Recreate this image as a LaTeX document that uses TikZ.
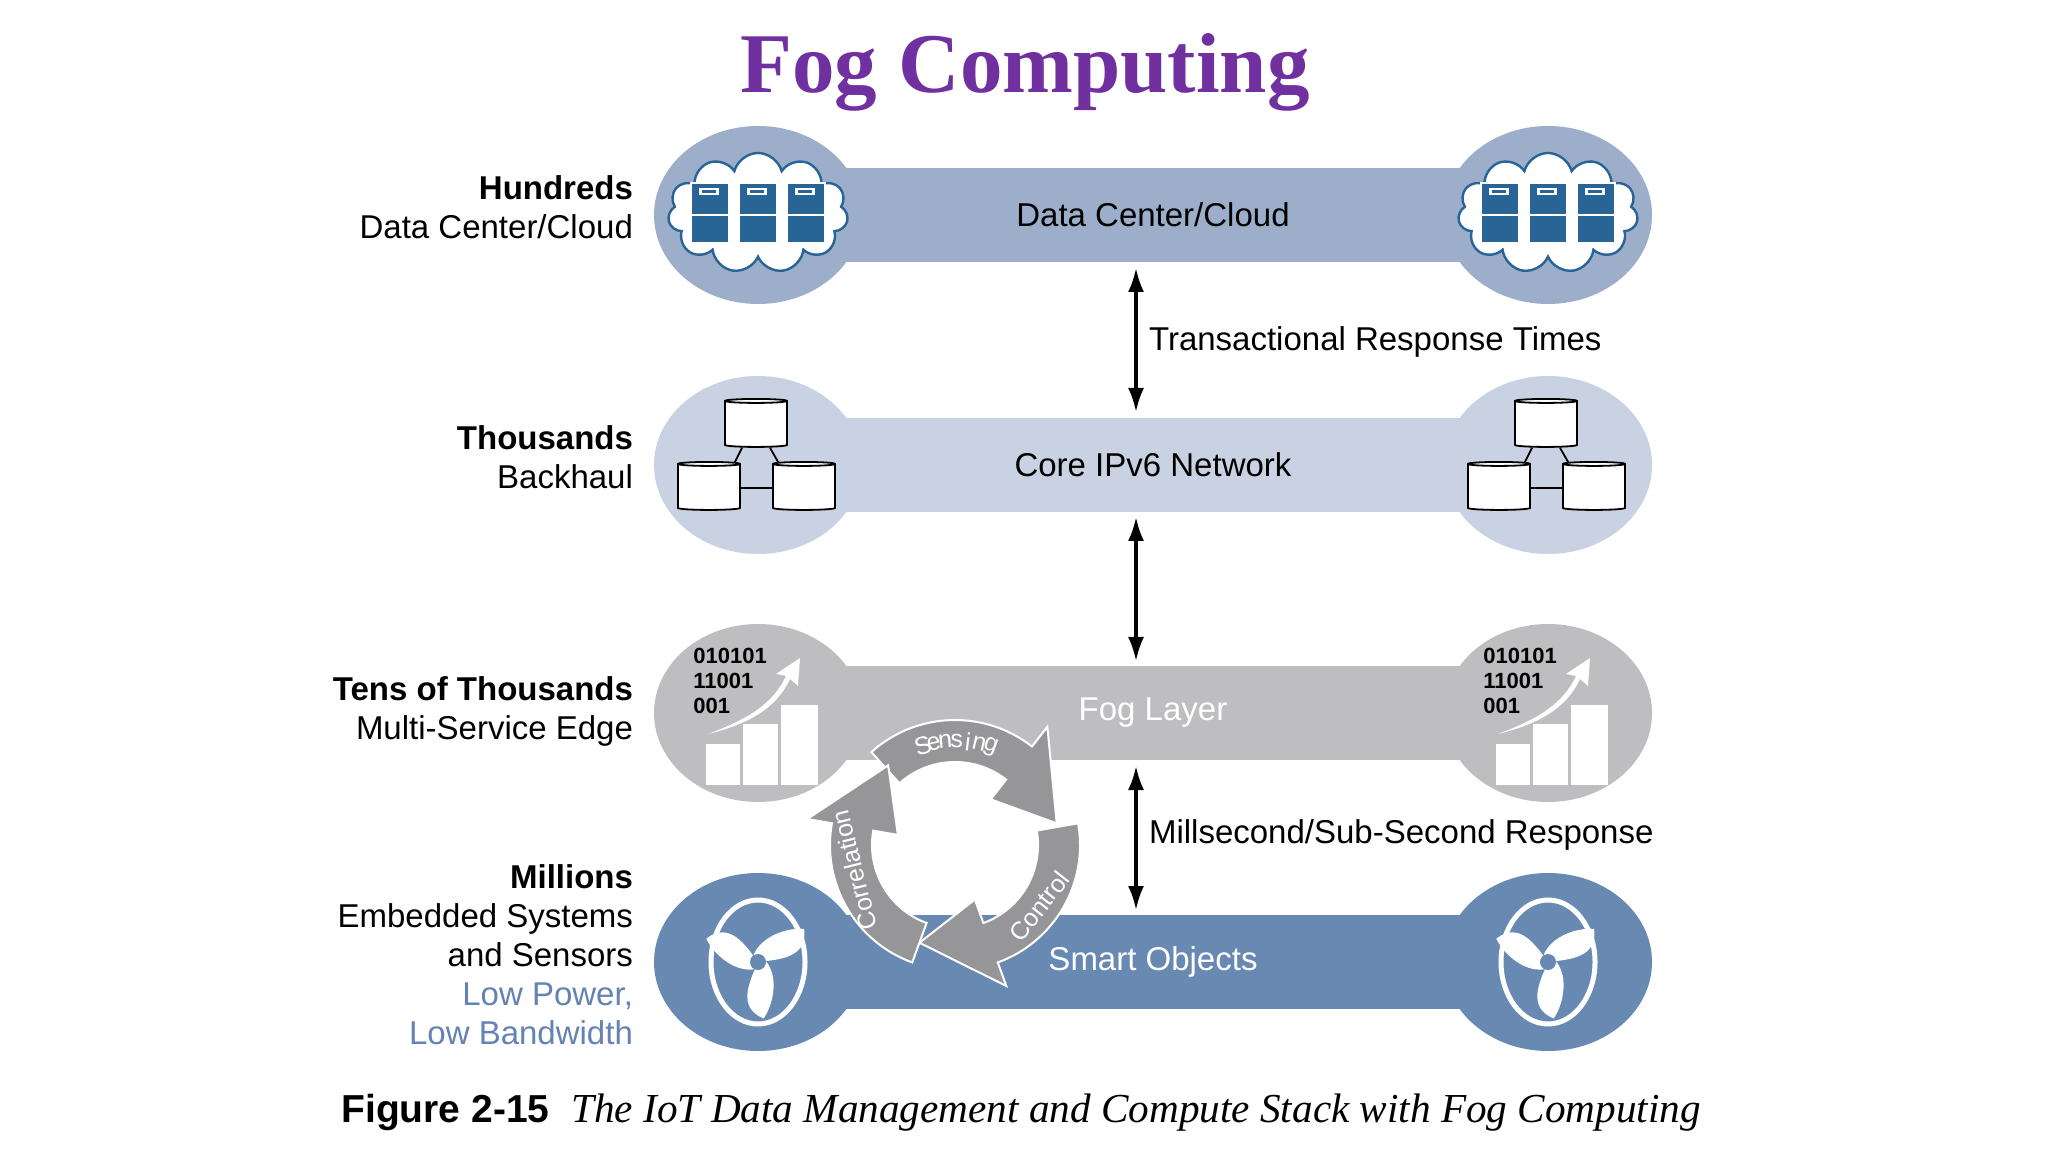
\documentclass[tikz,border=0pt]{standalone}
\usepackage{fontspec}
\setmainfont{Liberation Sans}
\newfontfamily\titlefont{Liberation Serif}
\usetikzlibrary{arrows.meta, positioning, shapes.symbols, shapes.geometric, calc}
\definecolor{cloudband}{RGB}{157,174,203}
\definecolor{coreband}{RGB}{200,210,226}
\definecolor{fogband}{RGB}{190,190,192}
\definecolor{smartband}{RGB}{104,138,178}
\definecolor{serverblue}{RGB}{40,100,150}
\definecolor{titlepurple}{RGB}{112,48,160}
\definecolor{lowblue}{RGB}{100,130,180}
\definecolor{cyclegray}{RGB}{150,150,152}
\tikzset{
  bandtext/.style={font=\fontsize{16.5}{18}\selectfont},
  tierlabel/.style={anchor=east, align=right, font=\fontsize{16.5}{19.5}\selectfont},
  rangelabel/.style={anchor=west, font=\fontsize{16.5}{18}\selectfont},
  cycletext/.style={text=white, font=\fontsize{12.5}{14}\selectfont, inner sep=0pt},
  link/.style={{Latex[length=12pt,width=8pt]}-{Latex[length=12pt,width=8pt]}, line width=1.6pt},
  server/.style={rectangle, fill=serverblue, draw=white, line width=1pt, minimum width=19pt, minimum height=30pt},
  dbase/.style={cylinder, shape border rotate=90, aspect=0.3, draw, fill=white, line width=0.9pt, minimum width=31pt, minimum height=24pt},
  bar/.style={fill=white, draw=none}
}
% one band with its two end discs
\newcommand{\layerband}[2]{%
  \fill[#1] (758,#2) ellipse (104 and 89);
  \fill[#1] (1548,#2) ellipse (104 and 89);
  \fill[#1] (758,#2-47) rectangle (1548,#2+47);
}
\begin{document}
\begin{tikzpicture}[x=0.5pt, y=0.5pt]
  \useasboundingbox (0,0) rectangle (2048,1152);
  \fill[white] (0,0) rectangle (2048,1152);

  % Title
  \node[font=\titlefont\bfseries\fontsize{42.5}{46}\selectfont, text=titlepurple] (title) at (1025,1080) {Fog Computing};

  % Bands
  \layerband{cloudband}{937}
  \layerband{coreband}{687}
  \layerband{fogband}{439}
  \layerband{smartband}{190}

  \node[bandtext] (cloud) at (1153,937) {Data Center/Cloud};
  \node[bandtext] (core) at (1153,687) {Core IPv6 Network};
  \node[bandtext, text=white] (fog) at (1153,439) {Fog Layer};
  \node[bandtext, text=white] (smart) at (1153,190) {Smart Objects};

  % Cloud icons
  \foreach \cx/\nm in {758/cl, 1548/cr} {
    \node[cloud, cloud puffs=11, aspect=1.5, draw=serverblue, line width=1.2pt, fill=white,
          minimum width=90pt, minimum height=60pt] (\nm) at (\cx,939) {};
    \foreach \dx in {-48,0,48} {
      \node[server] at (\cx+\dx,939) {};
      \fill[white] (\cx+\dx-11,957) rectangle (\cx+\dx+9,964);
      \fill[serverblue] (\cx+\dx-8,959) rectangle (\cx+\dx+6,962);
      \draw[white, line width=1pt] (\cx+\dx-19,937) -- (\cx+\dx+19,937);
    }
  }

  % Database icons
  \foreach \cx/\nm in {758/dl, 1548/dr} {
    \node[dbase] (\nm top) at (\cx-2,727) {};
    \node[dbase] (\nm a) at (\cx-49,664) {};
    \node[dbase] (\nm b) at (\cx+46,664) {};
    \draw[line width=0.9pt] (\nm top.south) ++(-14,0) -- (\nm a.north east);
    \draw[line width=0.9pt] (\nm top.south) ++(14,0) -- (\nm b.north west);
    \draw[line width=0.9pt] (\nm a.east) -- (\nm b.west);
  }

  % Analytics icons
  \foreach \cx/\nm in {758/al, 1548/ar} {
    \node[anchor=north west, align=left, font=\bfseries\fontsize{11}{12.5}\selectfont, inner sep=0pt] (\nm) at (\cx-65,504) {010101\\11001\\001};
    \fill[bar] (\cx-52,367) rectangle (\cx-18,408);
    \fill[bar] (\cx-15,367) rectangle (\cx+20,428);
    \fill[bar] (\cx+23,367) rectangle (\cx+60,447);
    \fill[white] (\cx-50,418) .. controls (\cx-10,433) and (\cx+15,448) .. (\cx+28,476)
      -- (\cx+18,478) -- (\cx+42,494) -- (\cx+40,466) -- (\cx+32,473)
      .. controls (\cx+18,443) and (\cx-10,428) .. cycle;
  }

  % Fan icons
  \foreach \cx/\nm in {758/fl, 1548/fr} {
    \draw[white, line width=2.5pt] (\cx,190) ellipse (47 and 62) coordinate (\nm);
    \foreach \a in {80,200,320} {
      \fill[white, rotate around={\a:(\cx,190)}] (\cx,190)
        .. controls (\cx+14,205) and (\cx+36,225) .. (\cx+14,245)
        .. controls (\cx,235) and (\cx-14,212) .. (\cx-8,193) -- cycle;
    }
    \fill[smartband] (\cx,190) circle (8);
  }

  % Cycle
  \foreach \t/\nm in {12/sens, -110/ctrl, 130/corr} {
    \pgfmathsetmacro{\A}{\t+120}
    \pgfmathsetmacro{\B}{\t+40}
    \fill[cyclegray, draw=white, line width=1pt] (955,307) ++(\A:125)
      arc[start angle=\A, end angle=\B, radius=125]
      -- ++(\B:25) coordinate (\nm)
      -- ($(955,307)+(\t:104)$)
      -- ($(955,307)+(\B:58)$)
      -- ($(955,307)+(\B:83)$)
      arc[start angle=\B, end angle=\A, radius=83] -- cycle;
  }
  \foreach \w [count=\i] in {S,e,n,s,i,n,g} {
    \pgfmathsetmacro{\ang}{108-(\i-1)*6.3}
    \node[cycletext, rotate=\ang-90] at ($(955,307)+(\ang:104)$) {\w};
  }
  \node[cycletext, rotate=52] (ctrlt) at ($(955,307)+(-36:104)$) {Control};
  \node[cycletext, rotate=104] (corrt) at ($(955,307)+(194:104)$) {Correlation};

  % Connectors
  \coordinate (c1) at (1136,884);
  \coordinate (c2) at (1136,740);
  \coordinate (c3) at (1136,635);
  \coordinate (c4) at (1136,491);
  \coordinate (c5) at (1136,386);
  \coordinate (c6) at (1136,242);
  \draw[link] (c1) -- (c2);
  \draw[link] (c3) -- (c4);
  \draw[link] (c5) -- (c6);
  \node[rangelabel] (trans) at (1142,810) {Transactional Response Times};
  \node[rangelabel] (milli) at (1142,317) {Millsecond/Sub-Second Response};

  % Tier labels
  \node[tierlabel] (hund) at (640,945) {\textbf{Hundreds}\\Data Center/Cloud};
  \node[tierlabel] (thou) at (640,695) {\textbf{Thousands}\\Backhaul};
  \node[tierlabel] (tens) at (640,441) {\textbf{Tens of Thousands}\\Multi-Service Edge};
  \node[tierlabel] (mill) at (640,197) {\textbf{Millions}\\Embedded Systems\\and Sensors\\\textcolor{lowblue}{Low Power,}\\\textcolor{lowblue}{Low Bandwidth}};

  % Caption
  \node[anchor=west, inner sep=0pt] (fig) at (341,39) {{\fontsize{19.5}{21}\selectfont\bfseries Figure 2-15}\hspace{1.1em}{\titlefont\itshape\fontsize{20.6}{22}\selectfont The IoT Data Management and Compute Stack with Fog Computing}};
\end{tikzpicture}
\end{document}
